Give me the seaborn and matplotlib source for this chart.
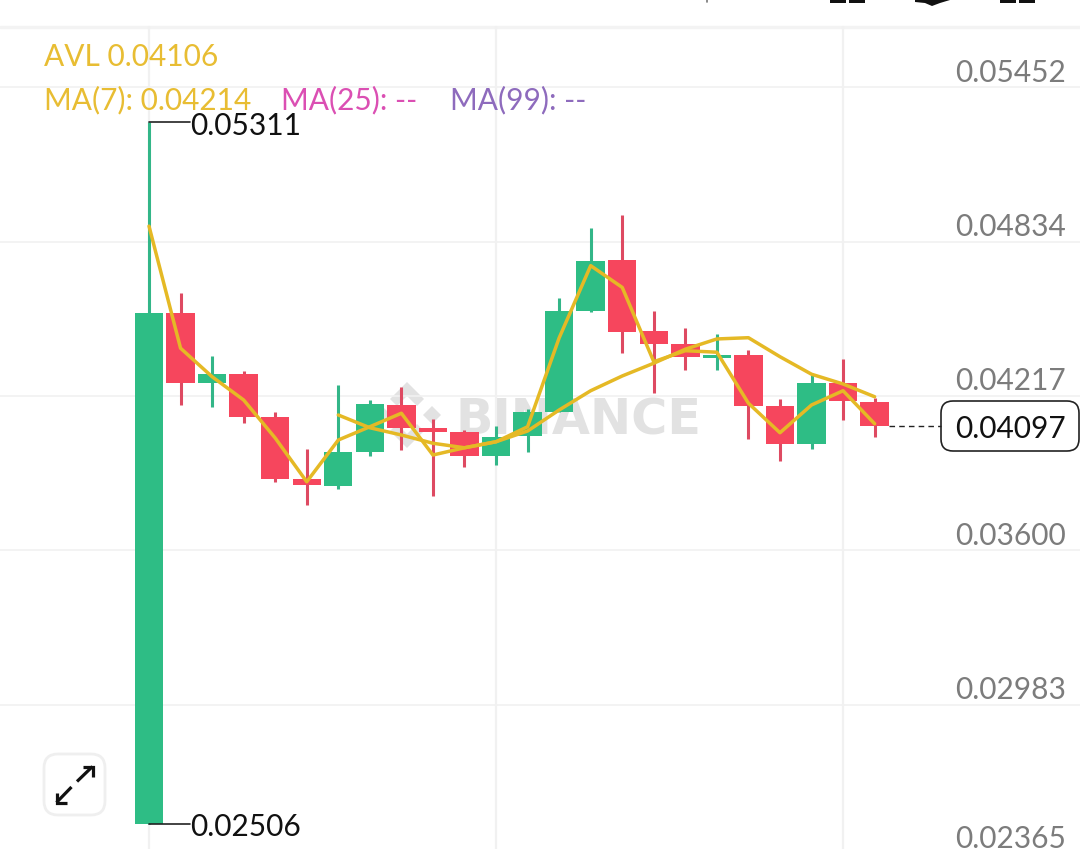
import numpy as np
import pandas as pd
import matplotlib
matplotlib.use("Agg")
import matplotlib.pyplot as plt
from matplotlib.patches import FancyBboxPatch, Polygon
import seaborn as sns

opens  = [0.02506,0.04550,0.04268,0.04306,0.04132,0.03885,0.03858,0.03993,0.04181,0.04088,0.04072,0.03977,
          0.04057,0.04154,0.04558,0.04759,0.04478,0.04425,0.04370,0.04381,0.04177,0.04024,0.04270,0.04194]
closes = [0.04550,0.04270,0.04304,0.04132,0.03885,0.03860,0.03993,0.04185,0.04089,0.04074,0.03977,0.04054,
          0.04153,0.04557,0.04757,0.04474,0.04424,0.04372,0.04381,0.04177,0.04024,0.04270,0.04196,0.04097]
highs  = [0.05311,0.04629,0.04377,0.04317,0.04153,0.04005,0.04261,0.04200,0.04253,0.04125,0.04081,0.04097,
          0.04166,0.04609,0.04888,0.04940,0.04557,0.04489,0.04464,0.04401,0.04206,0.04301,0.04364,0.04209]
lows   = [0.02506,0.04181,0.04173,0.04109,0.03874,0.03780,0.03844,0.03977,0.04000,0.03818,0.03934,0.03941,
          0.03992,0.04154,0.04551,0.04388,0.04230,0.04322,0.04322,0.04045,0.03957,0.04006,0.04120,0.04052]
avl    = [0.04896,0.04408,0.04294,0.04201,0.04049,0.03874,0.04041,0.04094,0.04148,0.03981,0.04010,0.04034,
          0.04094,0.04449,0.04738,0.04651,0.04354,0.04398,0.04392,0.04188,0.04070,0.04181,0.04238,0.04106]
ma7    = [np.nan]*6 + [0.04141,0.04090,0.04061,0.04028,0.04010,0.04034,0.04077,0.04161,0.04238,0.04297,
                       0.04348,0.04404,0.04445,0.04450,0.04374,0.04304,0.04265,0.04214]
price_ticks = [0.05452,0.04834,0.04217,0.03600,0.02983,0.02365]
price_labels = ["0.05452","0.04834","0.04217","0.03600","0.02983","0.02365"]
time_grid = [0,11,22]
last_price = "0.04097"
high_label, low_label = "0.05311", "0.02506"

UP, DOWN, GOLD, GRID = "#2EBD85", "#F6465D", "#E5B925", "#F1F1F1"
UP_WICK, DOWN_WICK = "#33B688", "#DE4A62"
TEXT_GOLD = "#E8BD33"
FONT = "Lato"

sns.set_theme(style="white")
plt.rcParams["font.family"] = [FONT, "DejaVu Sans"]

fig = plt.figure(figsize=(10.8, 8.49), dpi=100, facecolor="white")

# pixel-space layers: one under the chart, one above it
bg = fig.add_axes([0,0,1,1], zorder=0); bg.set_xlim(0,1080); bg.set_ylim(849,0); bg.axis("off")
ax = fig.add_axes([0,0,1,1], zorder=1)
fg = fig.add_axes([0,0,1,1], zorder=2); fg.set_xlim(0,1080); fg.set_ylim(849,0); fg.axis("off")

n = len(opens)
df = pd.DataFrame({"i":np.arange(n),"o":opens,"c":closes,"h":highs,"l":lows,"avl":avl,"ma7":ma7})
ax.set_xlim(-4.723, 29.51)
ax.set_ylim(0.02406, 0.05800)
ax.patch.set_alpha(0)
for s in ax.spines.values(): s.set_visible(False)

# grid
trans_top = (849-27)/849
for p in price_ticks:
    ax.axhline(p, color=GRID, lw=1.2, zorder=1)
for t in time_grid:
    ax.axvline(t, ymin=0, ymax=trans_top, color=GRID, lw=1.6, zorder=1)
bg.plot([0,1080],[27,27], color="#F3F3F3", lw=2.4)

# candles
is_up = [c >= o for o,c in zip(df.o,df.c)]
colors = [UP if u else DOWN for u in is_up]
wick_colors = [UP_WICK if u else DOWN_WICK for u in is_up]
ax.vlines(df.i, df.l, df.h, colors=wick_colors, lw=2.2, zorder=3)
ax.bar(df.i, (df.c-df.o).abs(), bottom=df[["o","c"]].min(axis=1), width=0.9, color=colors, lw=0, zorder=4)

# moving averages
sns.lineplot(data=df, x="i", y="avl", ax=ax, color=GOLD, lw=2.5, zorder=5, errorbar=None)
sns.lineplot(data=df, x="i", y="ma7", ax=ax, color=GOLD, lw=2.5, zorder=5, errorbar=None)
ax.set_xlabel(""); ax.set_ylabel("")
ax.set_xticks([]); ax.set_yticks([])

FS = 21.5
def y_px(p): return (0.05800-p)/(0.05800-0.02406)*849
# price labels sit just above their grid lines
for p,l in zip(price_ticks, price_labels):
    y = min(y_px(p)-17, 836)
    fg.text(1066, y, l, color="#7C7C7C", fontsize=FS, ha="right", va="center_baseline")

# legend text
fg.text(44, 54, "AVL 0.04106", color=TEXT_GOLD, fontsize=FS, va="center_baseline")
fg.text(44, 98, "MA(7): 0.04214", color=TEXT_GOLD, fontsize=FS, va="center_baseline")
fg.text(281, 98, "MA(25): --", color="#DB4FB3", fontsize=FS, va="center_baseline")
fg.text(450, 98, "MA(99): --", color="#8E6BBD", fontsize=FS, va="center_baseline")

# high / low callouts
fg.plot([149,190],[y_px(0.05311)]*2, color="#222222", lw=1.2)
fg.text(190, y_px(0.05311)+1, high_label, color="#111111", fontsize=FS, va="center_baseline")
fg.plot([149,190],[y_px(0.02506)]*2, color="#222222", lw=1.2)
fg.text(190, y_px(0.02506)+1, low_label, color="#111111", fontsize=FS, va="center_baseline")

# last price
fg.plot([889,941],[426,426], color="#222222", lw=1, dashes=(4,3))
fg.add_patch(FancyBboxPatch((953,413),114,26, boxstyle="round,pad=12,rounding_size=12",
             fc="white", ec="#222222", lw=1.2))
fg.text(1066, 426, last_price, color="#111111", fontsize=FS, ha="right", va="center_baseline")

# expand button
fg.add_patch(FancyBboxPatch((54,764),41,41, boxstyle="round,pad=10,rounding_size=14",
             fc="white", ec="#EFEFEF", lw=2))
for xs,ys in [([77,92.5],[781.5,766.5]), ([82.5,92.5,92.5],[766.5,766.5,776.5]),
              ([71.5,56.5],[787,802.5]), ([56.5,56.5,66.5],[792.5,802.5,802.5])]:
    fg.plot(xs, ys, color="#111111", lw=2.3, solid_joinstyle="miter", solid_capstyle="butt")

# watermark
WM = "#E2E2E2"
bg.text(579, 415, "BINANCE", color=WM, fontsize=35.5, fontweight="bold", ha="center", va="center_baseline", family="DejaVu Sans")
def diamond(cx, cy, r): return [(cx,cy-r),(cx+r,cy),(cx,cy+r),(cx-r,cy)]
for cx,cy,r in [(407,415,9),(432,415,9),(382,415,9)]:
    bg.add_patch(Polygon(diamond(cx,cy,r), fc=WM, ec="none"))
bg.add_patch(Polygon([(407,382),(424,399),(417,406),(407,396),(397,406),(390,399)], fc=WM, ec="none"))
bg.add_patch(Polygon([(407,448),(424,431),(417,424),(407,434),(397,424),(390,431)], fc=WM, ec="none"))

# clipped icons at the top edge
for x0,x1 in [(830,846),(849,865),(1000,1016),(1019,1035)]:
    fg.fill_between([x0,x1],0,3, color="#111111", lw=0)
fg.add_patch(Polygon([(915,0),(950,0),(940,3),(932,6),(925,3),(915,2)], fc="#111111", ec="none"))
fg.plot([707,707],[0,2], color="#777777", lw=1.2)

fig.savefig("out.png", dpi=100)
